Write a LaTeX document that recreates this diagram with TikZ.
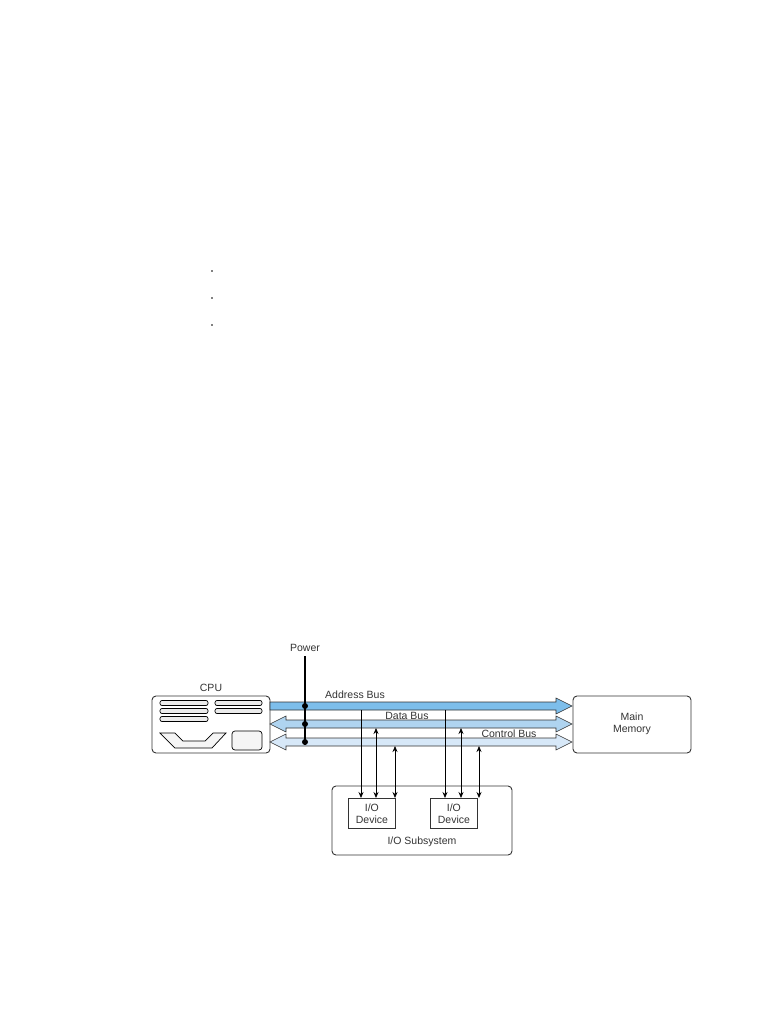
\documentclass[tikz,border=0pt]{standalone}
\usepackage{fontspec}
\setmainfont{Liberation Sans}
\usetikzlibrary{arrows.meta}
\begin{document}
\begin{tikzpicture}[x=1pt,y=-1pt,
  box/.style={draw=black!80,line width=0.9pt,rounded corners=4pt},
  lbl/.style={font=\fontsize{10.5}{12}\selectfont,text=black!80,inner sep=0},
  conn/.style={line width=0.8pt,-{Stealth[length=6pt,width=5pt]}},
  conn2/.style={line width=0.8pt,{Stealth[length=6pt,width=5pt]}-{Stealth[length=6pt,width=5pt]}},
  busline/.style={draw=black!80,line width=0.6pt}]
\useasboundingbox (0,0) rectangle (768,1024);
\definecolor{abus}{RGB}{125,190,235}
\definecolor{dbus}{RGB}{175,212,240}
\definecolor{cbus}{RGB}{215,232,248}
% list dots
\foreach \y in {271,298,325} \fill (212,\y) circle (0.8pt);
% boxes
\draw[box] (152,696) rectangle (270,753);
\node[coordinate] (cpu) at (270,724) {};
\draw[box] (573,696) rectangle (691,753);
\node[lbl,align=center] (mem) at (632,724) {Main\\Memory};
\draw[box] (332,786) rectangle (512,855);
\node[lbl] (iosub) at (422,842) {I/O Subsystem};
\node[draw=black!80,line width=0.8pt,minimum width=47pt,minimum height=30pt,inner sep=0,anchor=north west] (d1) at (348,798) {};
\node[lbl,align=center] at (d1) {I/O\\Device};
\node[draw=black!80,line width=0.8pt,minimum width=47pt,minimum height=30pt,inner sep=0,anchor=north west] (d2) at (430,798) {};
\node[lbl,align=center] at (d2) {I/O\\Device};
% CPU internals
\foreach \y in {703,711,719} \draw[line width=0.7pt,rounded corners=2pt,fill=black!8] (160,\y-2.5) rectangle (208,\y+2.5);
\foreach \y in {703,711} \draw[line width=0.7pt,rounded corners=2pt,fill=black!8] (215,\y-2.5) rectangle (262,\y+2.5);
\draw[line width=0.7pt,fill=black!4] (160,733)--(175,748)--(212,748)--(226,733)--(213,733)--(205,741)--(183,741)--(175,733)--cycle;
\draw[line width=0.7pt,rounded corners=3pt,fill=black!4] (232,731) rectangle (262,750);
% buses
\draw[busline,fill=abus] (270,702)--(556,702)--(556,698)--(572,706)--(556,714)--(556,710)--(270,710)--cycle;
\draw[busline,fill=dbus] (270,724)--(286,716)--(286,720)--(556,720)--(556,716)--(572,724)--(556,732)--(556,728)--(286,728)--(286,732)--cycle;
\draw[busline,fill=cbus] (270,742)--(286,734)--(286,738)--(556,738)--(556,734)--(572,742)--(556,750)--(556,746)--(286,746)--(286,750)--cycle;
% power
\node[lbl] (pw) at (305,648) {Power};
\draw[line width=1.2pt] (305,656)--(305,745);
\foreach \y in {706,724,742} \fill (305,\y) circle (3pt);
\node[lbl] at (355,695) {Address Bus};
\node[lbl] at (407,716) {Data Bus};
\node[lbl] at (509,734) {Control Bus};
% device connectors
\draw[conn] (361,710)--(361,798);
\draw[conn2] (376,728)--(376,798);
\draw[conn2] (395,746)--(395,798);
\draw[conn] (445,710)--(445,798);
\draw[conn2] (461,728)--(461,798);
\draw[conn2] (479,746)--(479,798);
\node[lbl] at (211,688) {CPU};
\end{tikzpicture}
\end{document}
